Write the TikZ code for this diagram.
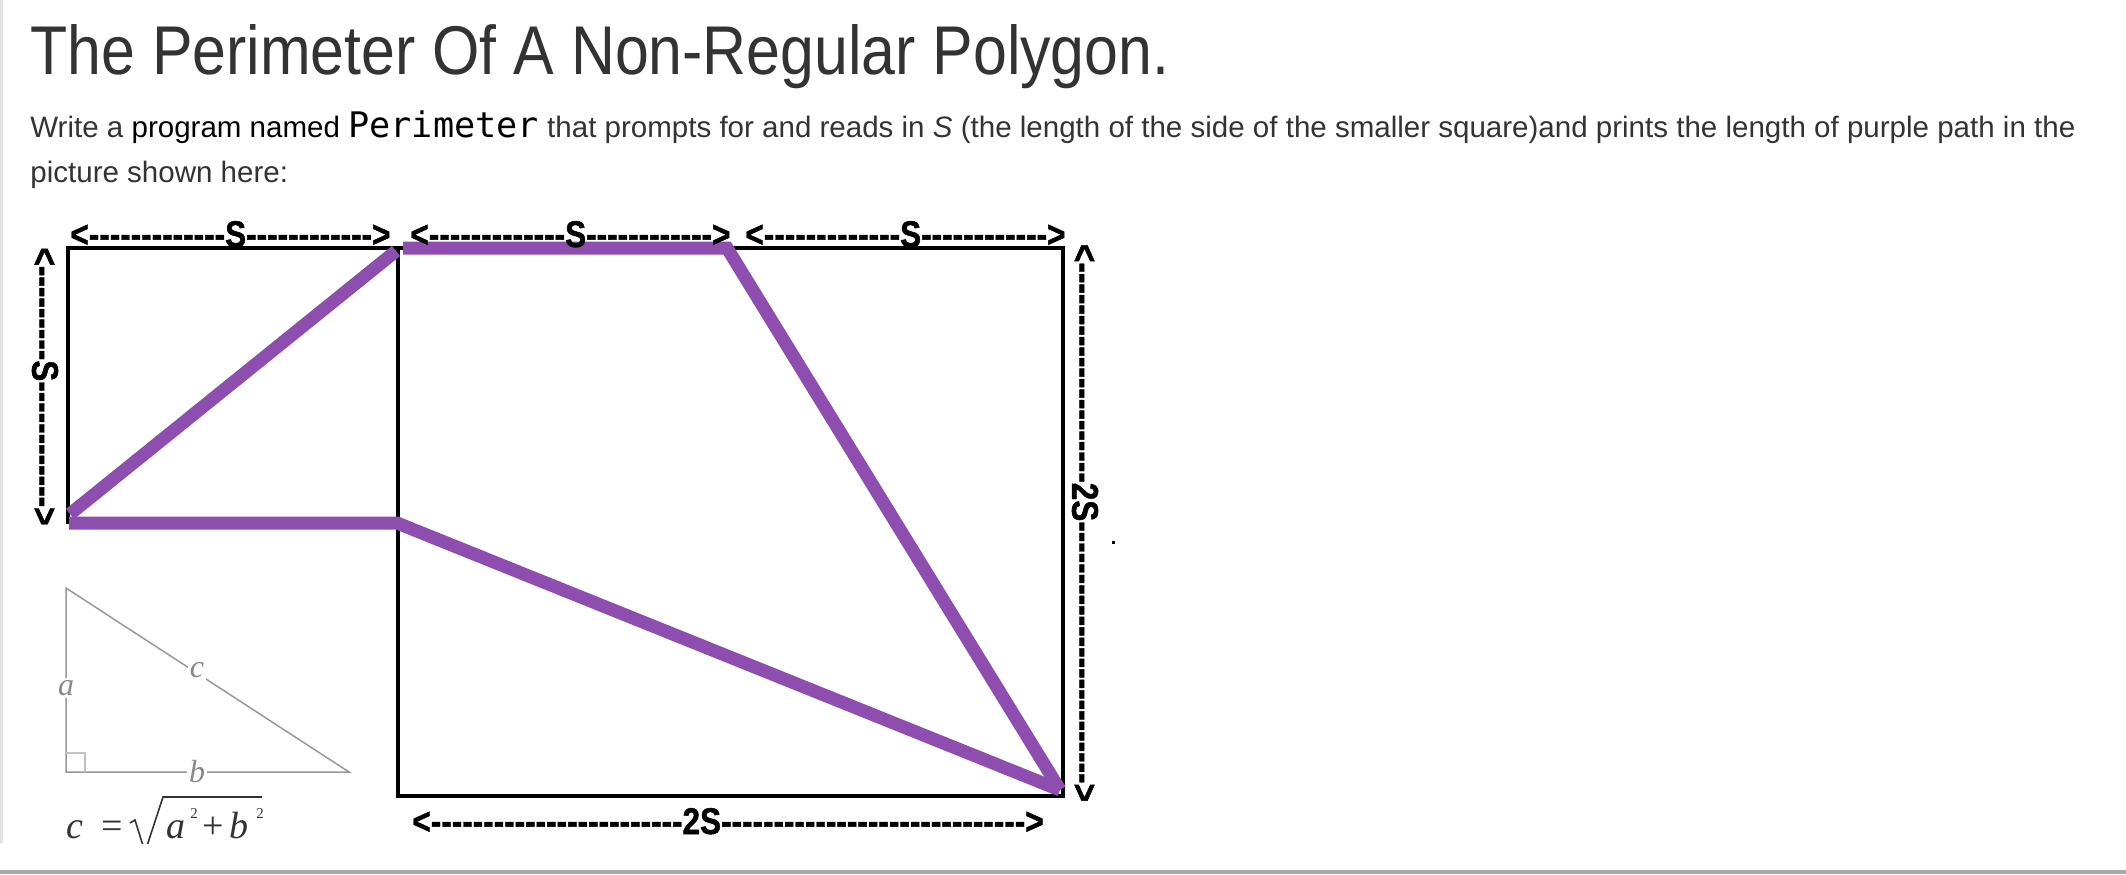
\documentclass[tikz,border=0pt]{standalone}
\usepackage{fontspec}
\usepackage{graphicx}
\setmainfont{Liberation Sans}
\newfontfamily\timesfont{Liberation Serif}
\newfontfamily\monofont{DejaVu Sans Mono}
\newfontfamily\dimfont{Liberation Sans}[BoldFeatures={FakeBold=1.3}]
\definecolor{purp}{HTML}{8E4EB0}
\definecolor{txtgray}{HTML}{333333}
\definecolor{trigray}{HTML}{999999}
\definecolor{trilabgray}{HTML}{8A8A8A}
\definecolor{bordergray}{HTML}{A8A8A8}
\definecolor{sidegray}{HTML}{E2E2E2}
\newcount\dcnt
\newcommand\dashes[1]{\dcnt=0 \loop\ifnum\dcnt<#1 -\kern0pt\advance\dcnt by 1 \repeat}
\newcommand\dimtxt[1]{\scalebox{1}[1.18]{\dimfont\fontsize{15.75}{18}\selectfont\bfseries #1}}
\newcommand\paraone{Write a {\color{black}program named} {\color{black}\monofont\fontsize{15.5}{16}\selectfont Perimeter} that prompts for and reads in \textit{S} (the length of the side of the smaller square)and prints the length of purple path in the}
\newcommand\paratwo{picture shown here:}
\newlength\paraonewd
\newcommand\myparascale{1}
\tikzset{
  blk/.style={draw=black, line width=1.75pt},
  purpline/.style={draw=purp, line width=6.5pt, line cap=butt, line join=miter},
  tri/.style={draw=trigray, line width=0.75pt},
  trilab/.style={fill=white, inner sep=1pt, text=trilabgray, font=\timesfont\itshape\fontsize{16}{18}\selectfont},
  dimlab/.style={inner sep=0pt, text=black},
  formula/.style={inner sep=0pt, anchor=base west, text=txtgray, font=\timesfont\fontsize{19}{21}\selectfont},
  supf/.style={inner sep=0pt, anchor=base west, text=txtgray, font=\timesfont\fontsize{7.5}{9}\selectfont},
  paratext/.style={anchor=base west, inner sep=0pt, text=txtgray},
}
\begin{document}
\begin{tikzpicture}[x=0.5pt,y=-0.5pt]
\useasboundingbox (0,0) rectangle (2126,874);
\fill[white] (0,0) rectangle (2126,874);
\fill[sidegray] (0,0) rectangle (3,843);
\fill[bordergray] (0,870) rectangle (2126,874);

% heading and text
\node[paratext] (title) at (30,74)
  {\resizebox{569.5pt}{25pt}{\fontsize{30}{36}\selectfont The Perimeter Of A Non-Regular Polygon.}};
\node[paratext] (line1) at (30,137)
  {\settowidth\paraonewd{\fontsize{13}{16}\selectfont\paraone}%
   \pgfmathsetmacro\tmpscale{1022.5/\paraonewd}%
   \global\let\myparascale\tmpscale
   \scalebox{\myparascale}{\fontsize{13}{16}\selectfont\paraone}};
\node[paratext] (line2) at (30,182)
  {\scalebox{\myparascale}{\fontsize{13}{16}\selectfont\paratwo}};

% squares
\coordinate (sqTL) at (68,248);
\coordinate (sqBR) at (398,522);
\coordinate (bgTL) at (398,248);
\coordinate (bgBR) at (1063,796);
\draw[blk] (sqTL) rectangle (sqBR);
\draw[blk] (bgTL) rectangle (bgBR);

% purple path
\coordinate (p1) at (69,523);
\coordinate (p2) at (397,523);
\coordinate (p3) at (1060,790);
\coordinate (p4) at (727,248);
\coordinate (p5) at (403,248);
\coordinate (p6) at (396,251);
\coordinate (p7) at (70,514);
\draw[purpline] (p1) -- (p2) -- (p3);
\draw[purpline] (p5) -- (p4) -- (p3);
\draw[purpline] (p6) -- (p7);

% dimension labels
\node[dimlab, anchor=base west] (dimT1) at (70,247) {\dimtxt{<\dashes{13}S\dashes{12}>}};
\node[dimlab, anchor=base west] (dimT2) at (410,247) {\dimtxt{<\dashes{13}S\dashes{12}>}};
\node[dimlab, anchor=base west] (dimT3) at (745,247) {\dimtxt{<\dashes{13}S\dashes{12}>}};
\node[dimlab, anchor=base west] (dimB) at (412,834) {\dimtxt{<\dashes{24}2S\dashes{29}>}};
\node[dimlab, rotate=-90] (dimL) at (45,386.5) {\dimtxt{<\dashes{9}S\dashes{12}>}};
\node[dimlab, rotate=-90] (dimR) at (1085,523) {\dimtxt{<\dashes{21}2S\dashes{25}>}};

% stray dot
\fill[black] (1112,541) rectangle (1115,544);

% right triangle
\coordinate (tA) at (66,588);
\coordinate (tC) at (66,772);
\coordinate (tB) at (349,772);
\draw[tri] (tA) -- (tC) -- (tB) -- cycle;
\draw[draw=trigray!60, line width=0.6pt] (66,753) -- (85,753) -- (85,772);
\node[trilab] (la) at (66,688) {a};
\node[trilab] (lc) at (197,670) {c};
\node[trilab] (lb) at (197,772) {b};

% formula (clipped at bottom)
\begin{scope}
\clip (0,0) rectangle (2126,843);
\node[formula] (fc) at (66,838) {\itshape c};
\node[formula] (feq) at (101,838) {=};
\draw[txtgray, line width=0.8pt, line join=miter] (130,823) -- (135,820) -- (145,852) -- (163,797) -- (262,797);
\node[formula] (fa) at (166,838) {\itshape a};
\node[supf] (f2a) at (190,818) {2};
\node[formula] (fplus) at (202,838) {+};
\node[formula] (fb) at (229,838) {\itshape b};
\node[supf] (f2b) at (256,818) {2};
\end{scope}
\end{tikzpicture}
\end{document}
